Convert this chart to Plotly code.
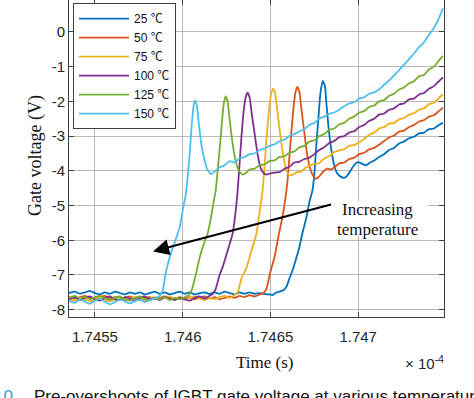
import plotly.graph_objects as go

# ---------------- data (time in units of 1e-4 s, gate voltage in V) ----------------
temps = ["25", "50", "75", "100", "125", "150"]
unit = "℃"
colors = ["#0072BD", "#D95319", "#EDB120", "#7E2F8E", "#77AC30", "#4DBEEE"]

t_base = [1.745352, 1.745386, 1.745415, 1.745443, 1.745472, 1.745500, 1.745528, 1.745557,
          1.745585, 1.745614, 1.745642, 1.745670, 1.745699, 1.745727, 1.745756, 1.745784,
          1.745813, 1.745841, 1.745869, 1.745898, 1.745926, 1.745955, 1.745983, 1.746011,
          1.746040, 1.746068, 1.746097, 1.746125, 1.746153, 1.746182, 1.746210, 1.746239,
          1.746267, 1.746295, 1.746324, 1.746352, 1.746381, 1.746409, 1.746438, 1.746466,
          1.746494]

# 150 C
t_150 = [1.745352, 1.745386, 1.745415, 1.745443, 1.745472, 1.745500, 1.745528, 1.745557,
         1.745585, 1.745614, 1.745642, 1.745670, 1.745699, 1.745727, 1.745756, 1.745784,
         1.745813, 1.745841, 1.745869, 1.745886, 1.745903, 1.745926, 1.745955, 1.745983,
         1.746000, 1.746017, 1.746028, 1.746040, 1.746051, 1.746063, 1.746071, 1.746080,
         1.746091, 1.746108, 1.746125, 1.746142, 1.746162, 1.746182, 1.746210, 1.746239,
         1.746267, 1.746295, 1.746324, 1.746352, 1.746381, 1.746409, 1.746438, 1.746466,
         1.746494, 1.746523, 1.746551, 1.746580, 1.746608, 1.746636, 1.746665, 1.746693,
         1.746722, 1.746750, 1.746778, 1.746807, 1.746835, 1.746864, 1.746892, 1.746920,
         1.746949, 1.746977, 1.747006, 1.747034, 1.747063, 1.747091, 1.747119, 1.747148,
         1.747176, 1.747205, 1.747233, 1.747261, 1.747290, 1.747318, 1.747347, 1.747375,
         1.747403, 1.747432, 1.747460, 1.747483]
v_150 = [-7.74, -7.80, -7.70, -7.77, -7.83, -7.74, -7.69, -7.77,
         -7.84, -7.78, -7.70, -7.76, -7.82, -7.75, -7.70, -7.78,
         -7.73, -7.68, -7.60, -7.44, -6.95, -6.48, -6.05, -5.62,
         -5.14, -4.70, -4.20, -3.50, -2.70, -2.10, -1.98, -2.10,
         -2.60, -3.30, -3.70, -3.98, -4.09, -4.02, -3.90, -3.84,
         -3.72, -3.76, -3.64, -3.60, -3.52, -3.50, -3.40, -3.36,
         -3.28, -3.24, -3.15, -3.10, -3.00, -2.94, -2.86, -2.80,
         -2.68, -2.62, -2.50, -2.44, -2.36, -2.32, -2.24, -2.14,
         -2.06, -2.02, -1.92, -1.88, -1.78, -1.74, -1.66, -1.52,
         -1.40, -1.25, -1.10, -0.94, -0.78, -0.62, -0.44, -0.30,
         -0.08, 0.12, 0.40, 0.68]

# 125 C
t_125 = [1.745352, 1.745386, 1.745415, 1.745443, 1.745472, 1.745500, 1.745528, 1.745557,
         1.745585, 1.745614, 1.745642, 1.745670, 1.745699, 1.745727, 1.745756, 1.745784,
         1.745813, 1.745841, 1.745869, 1.745898, 1.745926, 1.745955, 1.745983, 1.746011,
         1.746034, 1.746051, 1.746074, 1.746097, 1.746119, 1.746142, 1.746159, 1.746176,
         1.746188, 1.746199, 1.746210, 1.746222, 1.746233, 1.746244, 1.746256, 1.746267,
         1.746284, 1.746301, 1.746318, 1.746341, 1.746364, 1.746381, 1.746409, 1.746438,
         1.746466, 1.746494, 1.746523, 1.746551, 1.746580, 1.746608, 1.746636, 1.746665,
         1.746693, 1.746722, 1.746750, 1.746778, 1.746807, 1.746835, 1.746864, 1.746892,
         1.746920, 1.746949, 1.746977, 1.747006, 1.747034, 1.747063, 1.747091, 1.747119,
         1.747148, 1.747176, 1.747205, 1.747233, 1.747261, 1.747290, 1.747318, 1.747347,
         1.747375, 1.747403, 1.747432, 1.747460, 1.747483]
v_125 = [-7.66, -7.60, -7.68, -7.63, -7.70, -7.64, -7.60, -7.67,
         -7.72, -7.65, -7.62, -7.70, -7.74, -7.66, -7.62, -7.70,
         -7.72, -7.66, -7.70, -7.64, -7.72, -7.66, -7.70, -7.64,
         -7.58, -7.44, -7.00, -6.49, -6.12, -5.81, -5.40, -4.90,
         -4.57, -4.00, -3.40, -2.70, -2.10, -1.86, -2.00, -2.50,
         -3.20, -3.70, -3.98, -4.11, -4.04, -3.96, -3.94, -3.84,
         -3.82, -3.72, -3.70, -3.60, -3.58, -3.48, -3.44, -3.32,
         -3.28, -3.16, -3.12, -3.00, -2.94, -2.82, -2.78, -2.66,
         -2.62, -2.50, -2.44, -2.32, -2.28, -2.16, -2.12, -2.00,
         -1.96, -1.84, -1.78, -1.66, -1.60, -1.48, -1.42, -1.28,
         -1.24, -1.08, -1.00, -0.82, -0.69]

# 100 C
t_100 = [1.745352, 1.745386, 1.745415, 1.745443, 1.745472, 1.745500, 1.745528, 1.745557,
         1.745585, 1.745614, 1.745642, 1.745670, 1.745699, 1.745727, 1.745756, 1.745784,
         1.745813, 1.745841, 1.745869, 1.745898, 1.745926, 1.745955, 1.745983, 1.746011,
         1.746040, 1.746068, 1.746097, 1.746125, 1.746153,
         1.746170, 1.746188, 1.746210, 1.746227, 1.746256, 1.746284, 1.746301, 1.746313,
         1.746324, 1.746335, 1.746347, 1.746358, 1.746369, 1.746381, 1.746392, 1.746409,
         1.746426, 1.746443, 1.746460, 1.746477, 1.746494, 1.746523, 1.746551, 1.746580,
         1.746608, 1.746636, 1.746665, 1.746693, 1.746722, 1.746750, 1.746778, 1.746807,
         1.746835, 1.746864, 1.746892, 1.746920, 1.746949, 1.746977, 1.747006, 1.747034,
         1.747063, 1.747091, 1.747119, 1.747148, 1.747176, 1.747205, 1.747233, 1.747261,
         1.747290, 1.747318, 1.747347, 1.747375, 1.747403, 1.747432, 1.747460, 1.747483]
v_100 = [-7.70, -7.64, -7.72, -7.66, -7.62, -7.70, -7.74, -7.66,
         -7.62, -7.70, -7.72, -7.64, -7.68, -7.74, -7.66, -7.62,
         -7.70, -7.66, -7.72, -7.64, -7.68, -7.72, -7.66, -7.70,
         -7.74, -7.66, -7.62, -7.68, -7.60,
         -7.55, -7.40, -7.00, -6.78, -6.30, -5.82, -5.20, -4.57,
         -3.80, -3.00, -2.30, -1.90, -1.75, -1.88, -2.30, -2.90,
         -3.50, -3.90, -4.06, -4.11, -4.08, -4.05, -4.04, -3.94,
         -3.88, -3.76, -3.74, -3.66, -3.62, -3.52, -3.40, -3.32,
         -3.20, -3.14, -3.03, -3.00, -2.90, -2.86, -2.74, -2.68,
         -2.56, -2.50, -2.38, -2.35, -2.24, -2.20, -2.09, -2.06,
         -1.94, -1.92, -1.80, -1.76, -1.64, -1.56, -1.42, -1.31]

# 75 C
t_75 = [1.745352, 1.745386, 1.745415, 1.745443, 1.745472, 1.745500, 1.745528, 1.745557,
        1.745585, 1.745614, 1.745642, 1.745670, 1.745699, 1.745727, 1.745756, 1.745784,
        1.745813, 1.745841, 1.745869, 1.745898, 1.745926, 1.745955, 1.745983, 1.746011,
        1.746040, 1.746068, 1.746097, 1.746125, 1.746153, 1.746182, 1.746210, 1.746239,
        1.746267, 1.746295,
        1.746313, 1.746335, 1.746364, 1.746392, 1.746420, 1.746438, 1.746455, 1.746466,
        1.746477, 1.746489, 1.746500, 1.746514, 1.746526, 1.746540, 1.746557, 1.746574,
        1.746591, 1.746608, 1.746631, 1.746653, 1.746676, 1.746699, 1.746722, 1.746750,
        1.746778, 1.746807, 1.746835, 1.746864, 1.746892, 1.746920, 1.746949, 1.746977,
        1.747006, 1.747034, 1.747063, 1.747091, 1.747119, 1.747148, 1.747176, 1.747205,
        1.747233, 1.747261, 1.747290, 1.747318, 1.747347, 1.747375, 1.747403, 1.747432,
        1.747460, 1.747483]
v_75 = [-7.68, -7.74, -7.66, -7.70, -7.76, -7.68, -7.64, -7.72,
        -7.76, -7.70, -7.66, -7.72, -7.70, -7.64, -7.70, -7.74,
        -7.68, -7.64, -7.70, -7.66, -7.62, -7.68, -7.64, -7.70,
        -7.66, -7.62, -7.68, -7.72, -7.66, -7.70, -7.64, -7.60,
        -7.66, -7.58,
        -7.50, -7.10, -6.78, -6.30, -5.82, -5.20, -4.57, -3.90,
        -3.10, -2.40, -1.90, -1.63, -1.75, -2.30, -3.00, -3.60,
        -3.98, -4.13, -4.10, -4.04, -4.02, -3.92, -3.86, -3.80,
        -3.78, -3.64, -3.58, -3.46, -3.41, -3.38, -3.28, -3.26,
        -3.18, -3.08, -2.96, -2.90, -2.78, -2.74, -2.64, -2.62,
        -2.52, -2.48, -2.38, -2.34, -2.24, -2.20, -2.08, -2.04,
        -1.90, -1.80]

# 50 C
t_50 = t_base[:39] + [
        1.746460, 1.746477, 1.746500, 1.746523, 1.746545, 1.746568, 1.746585, 1.746597,
        1.746608, 1.746619, 1.746631, 1.746642, 1.746653, 1.746665, 1.746676, 1.746693,
        1.746710, 1.746727, 1.746744, 1.746761, 1.746778, 1.746801, 1.746824, 1.746847,
        1.746869, 1.746892, 1.746920, 1.746949, 1.746977, 1.747006, 1.747034, 1.747063,
        1.747091, 1.747119, 1.747148, 1.747176, 1.747205, 1.747233, 1.747261, 1.747290,
        1.747318, 1.747347, 1.747375, 1.747403, 1.747432, 1.747460, 1.747483]
v_50 = [-7.62, -7.68, -7.64, -7.60, -7.66, -7.70, -7.64, -7.60,
        -7.68, -7.64, -7.70, -7.66, -7.62, -7.68, -7.72, -7.66,
        -7.64, -7.70, -7.66, -7.62, -7.66, -7.70, -7.64, -7.68,
        -7.64, -7.70, -7.66, -7.62, -7.68, -7.64, -7.70, -7.66,
        -7.62, -7.66, -7.60, -7.64, -7.58, -7.62, -7.56,
        -7.52, -7.40, -6.90, -6.49, -5.90, -5.34, -4.80, -4.30,
        -3.60, -2.90, -2.20, -1.75, -1.58, -1.72, -2.20, -2.90,
        -3.55, -3.95, -4.15, -4.23, -4.16, -4.02, -3.94, -3.96,
        -3.88, -3.79, -3.76, -3.66, -3.62, -3.52, -3.48, -3.38,
        -3.34, -3.25, -3.14, -3.04, -2.98, -2.87, -2.84, -2.74,
        -2.68, -2.58, -2.54, -2.44, -2.40, -2.28, -2.18]

# 25 C
t_25 = t_base + [
        1.746511, 1.746528, 1.746551, 1.746574, 1.746591, 1.746608, 1.746625, 1.746648,
        1.746665, 1.746682, 1.746705, 1.746722, 1.746739, 1.746750, 1.746761, 1.746773,
        1.746784, 1.746798, 1.746810, 1.746818, 1.746830, 1.746847, 1.746864, 1.746881,
        1.746898, 1.746920, 1.746938, 1.746960, 1.746983, 1.747000, 1.747023, 1.747045,
        1.747068, 1.747091, 1.747119, 1.747148, 1.747176, 1.747205, 1.747233, 1.747261,
        1.747290, 1.747318, 1.747347, 1.747375, 1.747403, 1.747432, 1.747460, 1.747483]
v_25 = [-7.52, -7.48, -7.54, -7.50, -7.46, -7.52, -7.56, -7.50,
        -7.54, -7.48, -7.52, -7.56, -7.50, -7.54, -7.50, -7.56,
        -7.52, -7.48, -7.54, -7.50, -7.56, -7.52, -7.48, -7.54,
        -7.50, -7.56, -7.52, -7.50, -7.55, -7.50, -7.54, -7.48,
        -7.52, -7.56, -7.50, -7.54, -7.50, -7.54, -7.52, -7.55,
        -7.56,
        -7.58, -7.52, -7.48, -7.44, -7.34, -7.10, -6.88, -6.50,
        -6.20, -5.80, -5.34, -4.90, -4.57, -4.10, -3.30, -2.50,
        -1.80, -1.41, -1.55, -2.00, -2.70, -3.40, -3.85, -4.08,
        -4.16, -4.20, -4.14, -3.96, -3.80, -3.75, -3.80, -3.84,
        -3.76, -3.70, -3.60, -3.52, -3.40, -3.34, -3.21, -3.16,
        -3.06, -3.02, -2.92, -2.90, -2.80, -2.78, -2.68, -2.62]

series_t = [t_25, t_50, t_75, t_100, t_125, t_150]
series_v = [v_25, v_50, v_75, v_100, v_125, v_150]

x_ticks = [1.7455, 1.746, 1.7465, 1.747]
x_ticktext = ["1.7455", "1.746", "1.7465", "1.747"]
y_ticks = [-8, -7, -6, -5, -4, -3, -2, -1, 0]
y_ticktext = ["-8", "-7", "-6", "-5", "-4", "-3", "-2", "-1", "0"]
x_range = [1.745352, 1.747489]
y_range = [-8.21, 0.92]

arrow_head = (1.745831, -6.32)
arrow_tail = (1.746854, -4.96)
note_lines = ["Increasing", "temperature"]
note_x = 1.747108
note_y = [-5.12, -5.68]
note_box = (1.746830, 1.747400, -5.88, -4.88)

# ---------------- figure ----------------
fig = go.Figure()
for t, v, temp, c in zip(series_t, series_v, temps, colors):
    name = f"{temp} <span style='font-family:Noto Sans CJK SC'>{unit}</span>"
    fig.add_trace(go.Scatter(x=t, y=v, mode="lines", name=name,
                             line=dict(color=c, width=1.8, shape="spline", smoothing=0.5)))

axis_common = dict(showgrid=True, gridcolor="#b8b8b8", gridwidth=1,
                   showline=True, linecolor="#404040", linewidth=1, mirror="ticks",
                   ticks="inside", ticklen=5, tickcolor="#404040", zeroline=False,
                   tickfont=dict(family="Liberation Sans, Arial", size=15, color="#262626"))

fig.update_xaxes(range=x_range, tickvals=x_ticks, ticktext=x_ticktext,
                 ticklabelstandoff=6, **axis_common)
fig.update_yaxes(range=y_range, tickvals=y_ticks, ticktext=y_ticktext, **axis_common)

# white backing behind the note text (hides grid lines, stays under the curves)
fig.add_shape(type="rect", xref="x", yref="y",
              x0=note_box[0], x1=note_box[1], y0=note_box[2], y1=note_box[3],
              fillcolor="white", line=dict(width=0), layer="between")

serif = "Liberation Serif, Times New Roman, serif"
sans = "Liberation Sans, Arial, sans-serif"
annotations = [
    dict(x=arrow_head[0], y=arrow_head[1], ax=arrow_tail[0], ay=arrow_tail[1],
         xref="x", yref="y", axref="x", ayref="y", text="", showarrow=True,
         arrowhead=2, arrowsize=1.6, arrowwidth=2, arrowcolor="black"),
    dict(x=0.52, y=-0.142, xref="paper", yref="paper", text="Time (s)", showarrow=False,
         xanchor="center", yanchor="middle",
         font=dict(family=serif, size=17, color="#111")),
    dict(x=1.005, y=-0.142, xref="paper", yref="paper", text="× 10<sup>-4</sup>",
         showarrow=False, xanchor="right", yanchor="middle",
         font=dict(family=sans, size=15, color="#262626")),
    dict(x=-0.0907, y=0.511, xref="paper", yref="paper", text="Gate voltage (V)",
         showarrow=False, textangle=-90, xanchor="center", yanchor="middle",
         font=dict(family=serif, size=18, color="#111")),
    dict(x=-0.144, y=-0.215, xref="paper", yref="paper", text="10", showarrow=False,
         xanchor="right", yanchor="top", font=dict(family=sans, size=17, color="#2a9fd6")),
    dict(x=-0.0987, y=-0.215, xref="paper", yref="paper",
         text="Pre-overshoots of IGBT gate voltage at various temperatures",
         showarrow=False, xanchor="left", yanchor="top",
         font=dict(family=sans, size=17, color="#111")),
]
for txt, yy in zip(note_lines, note_y):
    annotations.append(dict(x=note_x, y=yy, xref="x", yref="y", text=txt, showarrow=False,
                            xanchor="center", yanchor="middle",
                            font=dict(family=serif, size=17, color="#111")))

fig.update_layout(
    width=474, height=398,
    margin=dict(l=69, r=30, t=0, b=81),
    paper_bgcolor="white", plot_bgcolor="white",
    showlegend=True,
    legend=dict(x=0.0107, y=0.99, xanchor="left", yanchor="top",
                bgcolor="white", bordercolor="#404040", borderwidth=1,
                font=dict(family=sans, size=12, color="#111"),
                itemwidth=50, tracegroupgap=0),
    annotations=annotations,
)

fig.write_html("out.html", config={"displayModeBar": False},
               post_script="document.body.style.margin='0';")
